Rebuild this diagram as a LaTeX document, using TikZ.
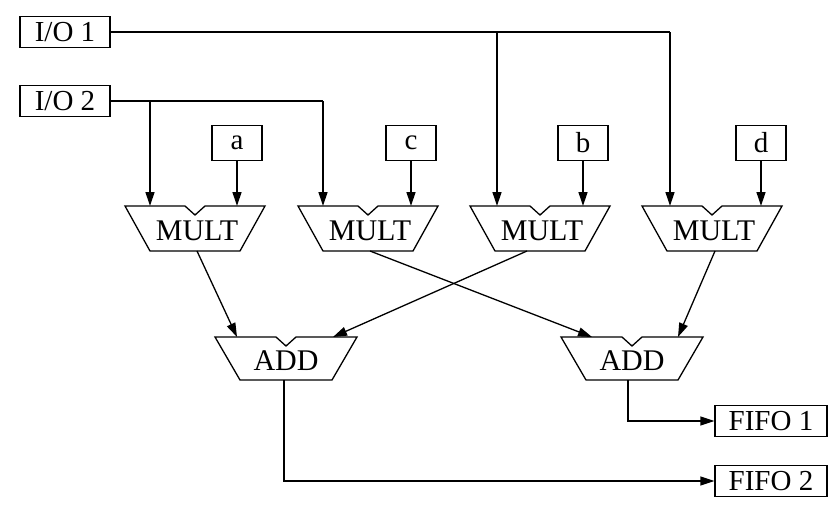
\documentclass[tikz,border=0pt]{standalone}
\usepackage{fontspec}
\setmainfont{Liberation Serif}
\usetikzlibrary{arrows.meta}
\begin{document}
\begin{tikzpicture}[x=1pt,y=-1pt,
  box/.style={draw,line width=1.3pt,minimum height=31pt,inner sep=2pt,font=\fontsize{29}{29}\selectfont},
  lbl/.style={font=\fontsize{30}{30}\selectfont,inner sep=0pt},
  unit/.style={line width=1.3pt},
  conn/.style={line width=1.3pt,-{Triangle[length=14pt,width=9pt]}},
  wire/.style={line width=1.3pt}]
\useasboundingbox (0,0) rectangle (833,520);
\newcommand{\alushape}[6]{% name, cx, ytop, halftop, halfbot, height
  \draw[unit] ({#2-#4},#3) -- ({#2-10},#3) -- (#2,{#3+9}) -- ({#2+10},#3) -- ({#2+#4},#3)
     -- ({#2+#5},{#3+#6}) -- ({#2-#5},{#3+#6}) -- cycle;
  \coordinate (#1-top) at (#2,#3);
  \coordinate (#1-bot) at (#2,{#3+#6});}
% boxes
\node[box,minimum width=90pt] (io1) at (65,32) {I/O 1};
\node[box,minimum width=90pt] (io2) at (65,101) {I/O 2};
\node[box,minimum width=50pt,minimum height=35pt] (a) at (237,143) {a};
\node[box,minimum width=50pt,minimum height=35pt] (c) at (411,143) {c};
\node[box,minimum width=50pt,minimum height=35pt] (b) at (583,143) {b};
\node[box,minimum width=50pt,minimum height=35pt] (d) at (761,143) {d};
\node[box,minimum width=112pt] (f1) at (771,421) {FIFO 1};
\node[box,minimum width=112pt] (f2) at (771,481) {FIFO 2};
% units
\alushape{m1}{195}{206}{70}{45}{45}
\alushape{m2}{368}{206}{70}{45}{45}
\alushape{m3}{540}{206}{70}{45}{45}
\alushape{m4}{712}{206}{70}{45}{45}
\alushape{s1}{286}{337}{71}{46}{43}
\alushape{s2}{632}{337}{71}{46}{43}
\node[lbl] (tm1) at (197,231) {MULT};
\node[lbl] (tm2) at (370,231) {MULT};
\node[lbl] (tm3) at (542,231) {MULT};
\node[lbl] (tm4) at (714,231) {MULT};
\node[lbl] (ts1) at (286,361) {ADD};
\node[lbl] (ts2) at (632,361) {ADD};
% I/O wires
\draw[wire] (io1.east) -- (670,32) coordinate (j1);
\draw[conn] (j1) -- (670,206);
\draw[conn] (497,32) -- (497,206);
\draw[wire] (io2.east) -- (323,101) coordinate (j2);
\draw[conn] (j2) -- (323,206);
\draw[conn] (150,101) -- (150,206);
% constants
\draw[conn] (a.south) -- (237,206);
\draw[conn] (c.south) -- (411,206);
\draw[conn] (b.south) -- (583,206);
\draw[conn] (d.south) -- (761,206);
% cross
\draw[conn] (197,251) -- (237,337);
\draw[conn] (527,251) -- (333,337);
\draw[conn] (370,251) -- (592,337);
\draw[conn] (715,251) -- (678,337);
% outputs
\draw[conn] (628,380) |- (f1.west);
\draw[conn] (284,380) |- (f2.west);
\end{tikzpicture}
\end{document}
